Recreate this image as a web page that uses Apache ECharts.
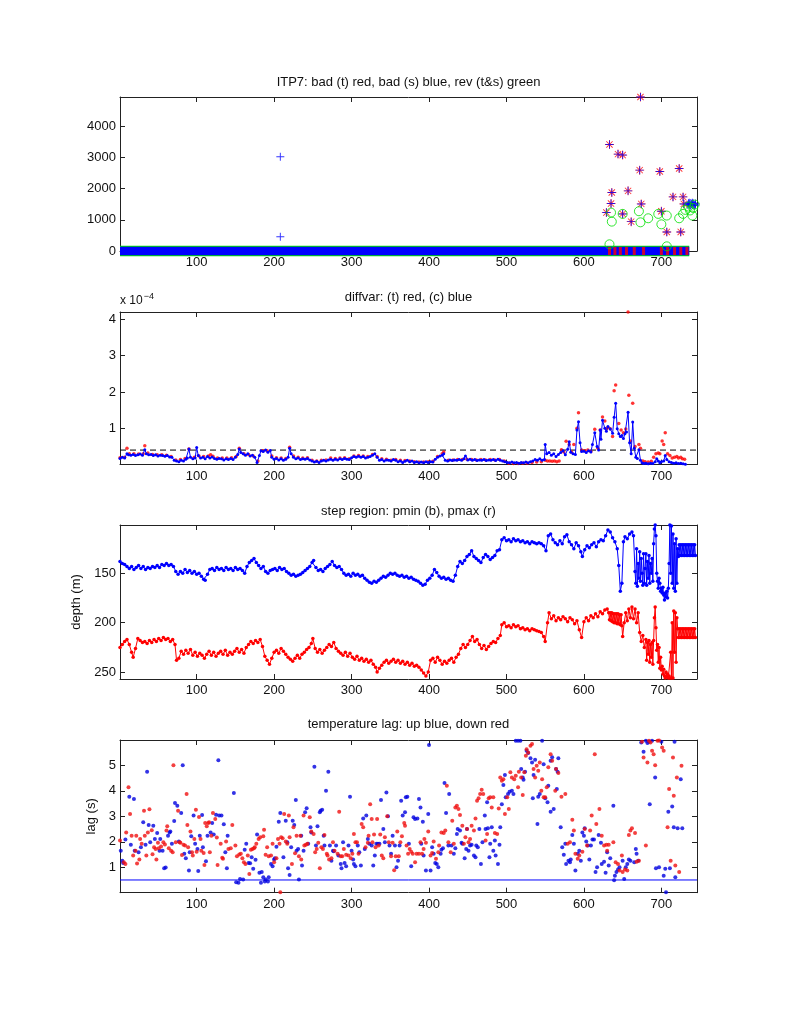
<!DOCTYPE html>
<html><head><meta charset="utf-8">
<script src="https://cdn.jsdelivr.net/npm/echarts@6/dist/echarts.min.js"></script>
<style>html,body{margin:0;padding:0;background:#fff}#c{width:791px;height:1024px}</style>
</head><body><div id="c"></div><script>
// ---------- data ----------
const xTicks = [100,200,300,400,500,600,700];
const titles = ['ITP7: bad (t) red, bad (s) blue, rev (t&s) green','diffvar: (t) red, (c) blue','step region: pmin (b), pmax (r)','temperature lag: up blue, down red'];

// panel 1
const badT = [[673,4940],[633,3418],[644,3108],[650,3077],[672,2594],[698,2551],[723,2647],[636,1876],[657,1929],[715,1736],[728,1736],[635,1522],[674,1511],[729,1511],[629,1232],[650,1190],[700,1276],[661,942],[707,611],[725,611]];
const badTZero = [[633,0],[640,0],[647,0],[655,0],[665,0],[677,0],[700,0],[708,0],[717,0],[725,0],[733,0]];
const badS = [[673,4940],[633,3418],[644,3108],[650,3077],[672,2594],[698,2551],[723,2647],[636,1876],[657,1929],[715,1736],[728,1736],[635,1522],[674,1511],[729,1511],[629,1232],[650,1190],[700,1276],[661,942],[707,611],[725,611],[208,3020],[208,460],
 [734,1480],[735,1530],[736,1500],[737,1470],[738,1540],[739,1510],[740,1490],[741,1530],[742,1500],[743,1470],[744,1520],[736,1550],[738,1460],[740,1550],[742,1460],[744,1480]];
const badSZeroBand = [[1,0],[736,0]];
const revZeroBand = [[1,0],[736,0]];
const rev = [[635,1232],[636,942],[650,1190],[671,1276],[673,920],[683,1050],[696,1190],[700,856],[707,1137],[723,1050],[728,1190],[731,1319],[735,1426],[740,1137],[743,1490],[737,1300],[741,1380],[633,215],[707,150]];

// panel 2 (units of 1e-4)
const diffLimit = 0.4;
const diffC = [[1,0.17],[4,0.2],[7,0.18],[10,0.3],[12,0.27],[15,0.26],[18,0.28],[21,0.25],[24,0.27],[27,0.29],[30,0.26],[33,0.41],[35,0.3],[38,0.27],[41,0.28],[44,0.25],[47,0.27],[50,0.24],[53,0.26],[56,0.25],[59,0.23],[62,0.25],[65,0.21],[68,0.2],[71,0.12],[74,0.1],[77,0.08],[80,0.12],[83,0.1],[86,0.15],[88,0.18],[90,0.43],[92,0.2],[95,0.16],[98,0.18],[100,0.47],[102,0.25],[105,0.18],[108,0.2],[111,0.16],[114,0.22],[117,0.18],[120,0.21],[123,0.17],[126,0.15],[129,0.17],[132,0.16],[135,0.13],[138,0.16],[141,0.14],[144,0.17],[147,0.14],[150,0.2],[153,0.28],[155,0.43],[157,0.33],[160,0.3],[163,0.26],[166,0.3],[169,0.24],[172,0.26],[175,0.2],[178,0.06],[181,0.25],[183,0.38],[186,0.36],[189,0.4],[192,0.34],[195,0.39],[197,0.2],[200,0.15],[203,0.17],[206,0.13],[209,0.16],[212,0.12],[215,0.15],[218,0.2],[220,0.45],[222,0.3],[225,0.2],[228,0.16],[231,0.18],[234,0.14],[237,0.16],[240,0.15],[243,0.17],[246,0.13],[249,0.1],[252,0.07],[255,0.09],[258,0.06],[261,0.1],[264,0.12],[267,0.1],[270,0.13],[273,0.15],[276,0.12],[279,0.15],[282,0.13],[285,0.16],[288,0.14],[291,0.17],[294,0.15],[297,0.14],[300,0.19],[303,0.22],[306,0.2],[309,0.23],[312,0.2],[315,0.22],[318,0.18],[321,0.2],[324,0.22],[327,0.26],[330,0.3],[333,0.2],[336,0.12],[339,0.14],[342,0.1],[345,0.13],[348,0.12],[351,0.1],[354,0.14],[357,0.12],[360,0.08],[363,0.1],[366,0.06],[369,0.09],[372,0.12],[375,0.08],[378,0.1],[381,0.06],[384,0.08],[387,0.05],[390,0.07],[393,0.05],[396,0.08],[399,0.06],[402,0.08],[405,0.07],[408,0.15],[411,0.2],[414,0.24],[417,0.26],[419,0.3],[421,0.12],[424,0.1],[427,0.13],[430,0.11],[433,0.13],[436,0.12],[439,0.14],[442,0.12],[445,0.16],[447,0.24],[450,0.13],[453,0.15],[456,0.12],[459,0.14],[462,0.11],[465,0.13],[468,0.12],[471,0.14],[474,0.11],[477,0.13],[480,0.12],[483,0.14],[486,0.11],[489,0.15],[492,0.12],[495,0.1],[498,0.08],[501,0.06],[504,0.05],[507,0.07],[510,0.05],[513,0.06],[516,0.04],[519,0.06],[522,0.05],[525,0.07],[528,0.05],[531,0.08],[534,0.1],[537,0.14],[540,0.12],[543,0.16],[546,0.12],[549,0.14],[550,0.55],[552,0.3],[555,0.33],[558,0.26],[561,0.3],[564,0.22],[567,0.28],[570,0.33],[573,0.38],[576,0.27],[579,0.42],[581,0.63],[583,0.34],[586,0.3],[589,0.28],[591,0.95],[593,1.18],[595,0.6],[597,0.36],[600,0.37],[603,0.33],[606,0.38],[609,0.35],[611,0.55],[614,0.88],[617,0.5],[619,0.4],[621,0.95],[622,0.7],[624,1.22],[627,1.0],[629,0.92],[631,1.05],[634,0.98],[637,0.86],[639,1.3],[641,1.69],[643,0.99],[645,0.85],[647,0.77],[649,0.8],[651,0.72],[653,0.85],[655,0.9],[657,1.44],[659,0.6],[661,0.3],[663,1.17],[665,0.45],[667,0.2],[669,0.17],[671,0.41],[673,0.12],[675,0.05],[677,0.03],[680,0.04],[683,0.02],[686,0.04],[689,0.03],[692,0.08],[694,0.16],[696,0.1],[698,0.05],[700,0.08],[703,0.1],[705,0.25],[707,0.14],[710,0.08],[713,0.06],[716,0.04],[719,0.05],[722,0.03],[725,0.04],[728,0.02],[731,0.01]];
const diffT = [[1,0.19],[7,0.2],[10,0.45],[13,0.3],[19,0.3],[25,0.29],[31,0.3],[33,0.52],[37,0.32],[43,0.28],[49,0.27],[55,0.27],[61,0.26],[67,0.22],[73,0.13],[79,0.14],[85,0.17],[90,0.43],[97,0.2],[103,0.24],[109,0.22],[115,0.24],[118,0.27],[121,0.23],[127,0.18],[133,0.18],[139,0.18],[145,0.19],[151,0.22],[155,0.45],[161,0.3],[167,0.28],[173,0.24],[179,0.1],[185,0.38],[191,0.38],[197,0.24],[203,0.19],[209,0.18],[215,0.17],[220,0.48],[225,0.24],[231,0.2],[237,0.18],[243,0.19],[249,0.12],[255,0.1],[261,0.12],[267,0.13],[273,0.18],[279,0.17],[285,0.18],[291,0.19],[297,0.16],[303,0.24],[309,0.25],[315,0.24],[321,0.22],[327,0.28],[333,0.22],[339,0.16],[345,0.15],[351,0.12],[357,0.14],[363,0.12],[369,0.11],[375,0.1],[381,0.08],[387,0.07],[393,0.07],[399,0.08],[405,0.09],[411,0.22],[417,0.3],[419,0.35],[425,0.12],[431,0.13],[437,0.14],[443,0.14],[449,0.15],[455,0.14],[461,0.13],[467,0.14],[473,0.13],[479,0.14],[485,0.13],[491,0.14],[497,0.1],[503,0.04],[509,0.03],[515,0.03],[521,0.04],[527,0.04],[533,0.06],[539,0.07],[545,0.08],[550,0.12],[553,0.1],[556,0.1],[559,0.09],[562,0.1],[565,0.08],[568,0.1],[571,0.41],[574,0.35],[577,0.64],[581,0.55],[584,0.35],[587,0.55],[591,1.0],[593,1.43],[597,0.4],[601,0.38],[605,0.4],[609,0.36],[614,0.97],[618,0.45],[621,0.95],[624,1.31],[627,1.2],[629,0.98],[631,1.02],[634,0.99],[637,0.77],[639,2.03],[641,2.19],[645,1.13],[648,0.95],[651,0.88],[654,0.98],[657,4.2],[658,1.91],[660,0.65],[663,1.69],[666,0.5],[671,0.55],[673,0.45],[676,0.1],[679,0.08],[683,0.07],[687,0.09],[690,0.2],[693,0.3],[696,0.32],[698,0.3],[701,0.65],[703,0.55],[705,0.88],[708,0.3],[711,0.25],[714,0.18],[717,0.2],[720,0.22],[722,0.18],[725,0.2],[727,0.16],[730,0.15]];

// panel 3 (depth, m)
const pmin = [[1,138],[4,140],[7,141],[10,143],[13,145],[16,143],[19,146],[22,144],[25,142],[28,145],[31,143],[34,146],[37,144],[40,145],[43,143],[46,144],[49,142],[52,144],[55,141],[58,142],[61,140],[64,142],[67,141],[70,143],[73,148],[76,151],[79,148],[82,150],[85,146],[88,149],[91,147],[94,150],[97,148],[100,151],[103,150],[106,153],[109,156],[111,157],[114,151],[117,146],[120,145],[123,147],[126,144],[129,146],[132,145],[135,147],[138,144],[141,146],[144,145],[147,147],[150,144],[153,146],[156,145],[159,147],[162,150],[165,143],[168,139],[171,137],[174,135],[177,139],[180,142],[183,145],[186,143],[189,148],[192,150],[195,147],[198,146],[201,145],[204,147],[207,144],[210,146],[213,145],[216,148],[219,150],[222,152],[225,151],[228,153],[231,152],[234,151],[237,149],[240,147],[243,145],[246,143],[249,139],[251,137],[254,144],[257,147],[260,146],[263,148],[266,145],[269,143],[272,141],[275,138],[278,142],[281,144],[284,143],[287,146],[290,150],[293,152],[296,151],[299,153],[302,150],[305,152],[308,151],[311,153],[314,152],[317,155],[320,157],[323,159],[326,160],[329,158],[332,159],[335,157],[338,155],[341,153],[344,154],[347,152],[350,150],[353,151],[356,150],[359,152],[362,153],[365,152],[368,154],[371,153],[374,155],[377,154],[380,156],[383,157],[386,158],[389,160],[392,162],[395,161],[398,157],[401,155],[404,152],[407,146],[410,149],[413,153],[416,155],[419,154],[422,156],[425,155],[428,157],[431,158],[434,152],[437,143],[440,138],[443,140],[446,137],[449,133],[452,131],[455,127],[458,133],[461,135],[464,137],[467,139],[470,134],[473,131],[476,133],[479,136],[482,134],[485,132],[488,127],[491,126],[494,116],[497,114],[500,117],[503,116],[506,118],[509,115],[512,117],[515,116],[518,118],[521,117],[524,119],[527,118],[530,120],[533,118],[536,119],[539,120],[542,119],[545,120],[548,122],[551,127],[554,112],[557,110],[560,116],[563,119],[566,121],[569,117],[572,120],[575,113],[578,111],[581,118],[584,121],[587,125],[590,119],[593,122],[596,128],[598,133],[601,126],[604,122],[607,124],[610,121],[613,119],[616,123],[619,118],[622,116],[625,117],[628,112],[631,106],[634,108],[637,114],[640,118],[643,125],[645,142],[647,168],[649,160],[651,118],[653,113],[656,115],[659,110],[662,108],[664,112],[666,148],[667,160],[668,125],[669,163],[670,140],[671,155],[672,128],[673,158],[674,135],[675,150],[676,162],[677,130],[678,160],[679,145],[680,130],[681,162],[682,138],[683,155],[684,132],[685,160],[686,140],[687,150],[688,135],[689,158],[690,120],[691,105],[692,101],[693,112],[694,150],[695,158],[696,165],[697,155],[698,160],[699,168],[700,165],[701,170],[702,164],[703,172],[704,177],[705,170],[706,174],[707,168],[708,175],[709,165],[710,140],[711,101],[712,150],[713,102],[714,160],[715,110],[716,165],[717,120],[718,168],[719,115],[720,160],[721,125],[722,133],[723,121],[724,132],[725,121],[726,132],[727,121],[728,132],[729,121],[730,132],[731,121],[732,132],[733,121],[734,132],[735,121],[736,132],[737,121],[738,132],[739,121],[740,132],[741,121],[742,132],[743,121],[744,132]];
const pmax = [[1,225],[4,222],[7,219],[10,217],[13,222],[16,230],[18,235],[21,226],[24,216],[27,218],[30,220],[33,219],[36,221],[39,218],[42,220],[45,217],[48,219],[51,216],[54,218],[57,215],[60,217],[63,216],[66,219],[69,217],[72,222],[74,238],[77,236],[80,229],[83,232],[86,228],[89,231],[92,227],[95,233],[98,230],[101,234],[104,231],[107,233],[110,236],[113,232],[116,229],[119,233],[122,230],[125,234],[128,231],[131,229],[134,232],[137,228],[140,233],[143,230],[146,232],[149,229],[152,226],[155,230],[158,227],[161,231],[164,225],[167,222],[170,219],[173,221],[176,218],[179,220],[182,217],[185,224],[188,234],[191,238],[194,242],[197,236],[200,230],[203,228],[206,231],[209,226],[212,229],[215,232],[218,235],[221,237],[224,239],[227,236],[230,233],[233,236],[236,232],[239,230],[242,227],[245,225],[248,221],[250,216],[253,226],[256,230],[259,227],[262,231],[265,228],[268,225],[271,222],[274,224],[277,220],[280,226],[283,229],[286,231],[289,233],[292,230],[295,234],[298,231],[301,235],[304,237],[307,234],[310,238],[313,236],[316,239],[319,237],[322,240],[325,238],[328,242],[331,245],[333,250],[336,246],[339,243],[342,240],[345,238],[348,241],[351,239],[354,237],[357,240],[360,238],[363,241],[366,239],[369,242],[372,240],[375,243],[378,241],[381,244],[384,243],[387,245],[390,248],[393,251],[396,254],[399,250],[402,238],[405,236],[408,240],[411,235],[414,238],[417,242],[420,239],[423,241],[426,238],[429,236],[432,240],[435,235],[438,232],[441,226],[444,222],[447,225],[450,222],[453,218],[456,214],[459,219],[462,217],[465,222],[468,226],[471,223],[474,227],[477,224],[480,221],[483,219],[486,220],[489,216],[492,213],[494,202],[497,200],[500,204],[503,203],[506,205],[509,202],[512,204],[515,203],[518,206],[521,205],[524,207],[527,206],[530,208],[533,206],[536,207],[539,208],[542,209],[545,210],[548,214],[550,219],[553,200],[555,190],[558,196],[561,193],[564,198],[567,195],[570,197],[573,194],[576,196],[579,199],[582,195],[585,197],[588,201],[591,198],[594,207],[597,215],[600,199],[603,195],[606,198],[609,193],[612,195],[615,191],[618,194],[621,189],[624,191],[627,187],[630,186],[632,190],[633,197],[634,190],[635,198],[636,190],[637,199],[638,191],[639,200],[640,191],[641,200],[642,191],[643,201],[644,191],[645,201],[646,192],[647,202],[648,192],[649,203],[650,214],[652,200],[654,190],[656,198],[658,186],[660,195],[662,184],[664,196],[666,186],[668,200],[670,190],[672,210],[674,219],[676,213],[678,225],[680,217],[681,238],[682,220],[683,232],[684,218],[685,240],[686,222],[687,235],[688,220],[689,242],[690,218],[691,195],[692,184],[693,205],[694,228],[695,222],[696,240],[697,225],[698,246],[699,235],[700,248],[701,244],[702,252],[703,247],[704,254],[705,256],[706,250],[707,255],[708,252],[709,256],[710,254],[711,256],[712,230],[713,256],[714,200],[715,256],[716,188],[717,230],[718,190],[719,240],[720,195],[721,206],[722,215],[723,206],[724,215],[725,206],[726,215],[727,206],[728,215],[729,206],[730,215],[731,206],[732,215],[733,206],[734,215],[735,206],[736,215],[737,206],[738,215],[739,206],[740,215],[741,206],[742,215],[743,206],[744,215]];

// panel 4 (lag, s)
const lagRef = 0.5;
const lagUp = [[2,1.65],[4,1.26],[5,1.17],[8,2.09],[13,3.77],[19,3.68],[15,1.88],[20,1.65],[25,1.59],[28,1.79],[31,2.77],[36,4.75],[34,1.88],[38,2.66],[40,1.98],[44,2.63],[46,2.11],[49,2.35],[52,1.65],[53,2.11],[56,1.65],[58,0.96],[60,0.99],[63,2.24],[65,2.37],[66,2.40],[68,1.92],[71,2.82],[72,3.52],[75,3.42],[77,2.01],[80,3.13],[82,5.01],[84,1.53],[86,1.35],[90,0.87],[91,1.59],[93,2.22],[96,3.03],[98,1.92],[101,1.72],[102,0.85],[104,2.24],[107,3.05],[108,1.79],[112,1.24],[114,2.24],[118,2.37],[120,2.74],[122,2.29],[125,3.06],[128,5.20],[129,3.03],[132,3.03],[135,2.69],[137,1.59],[139,0.96],[140,2.24],[148,3.92],[151,0.41],[154,0.39],[156,0.54],[160,0.52],[162,1.69],[164,1.92],[167,1.17],[169,1.16],[171,1.39],[173,0.94],[176,1.29],[178,2.29],[181,0.78],[183,0.39],[184,0.81],
 [186,0.61],[188,0.44],[189,0.52],[192,0.44],[193,0.61],[196,1.13],[198,1.04],[200,1.30],[201,1.35],[203,1.81],[206,2.79],[208,3.13],[212,1.39],[215,2.83],[217,1.98],[218,0.96],[220,0.70],[222,1.79],[224,2.83],[226,2.66],[228,3.64],[229,1.65],[231,1.72],[232,0.52],[235,2.24],[236,1.07],[238,1.65],[240,3.16],[242,3.32],[244,1.92],[247,2.57],[248,2.37],[252,4.95],[254,1.85],[256,2.61],[259,3.16],[260,3.22],[262,3.26],[264,2.24],[265,1.85],[267,4.01],[270,4.75],[272,1.85],[274,1.26],[276,1.65],[277,1.63],[280,1.85],[283,1.46],[286,1.13],[287,0.96],[289,1.98],[291,1.17],[293,1.04],[296,1.85],[298,3.77],[300,1.65],[302,1.30],[303,1.13],[305,1.04],[308,1.85],[310,1.59],[312,1.07],[315,2.92],[317,1.72],[319,3.03],[321,2.11],[323,1.92],[326,1.85],[328,1.07],[330,1.46],[332,1.92],[334,1.92],[336,1.92],[338,3.64],[341,2.50],[343,1.98],[345,3.94],[347,3.00],[349,1.85],[351,1.53],[353,2.24],[356,1.85],[358,1.00],[360,1.26],[362,1.85],[364,3.61],[366,3.03],[369,3.16],[370,3.75],
 [372,3.77],[374,1.92],[377,1.04],[380,2.96],[382,2.90],[385,2.92],[387,3.68],[389,3.35],[390,1.92],[392,2.79],[393,1.46],[396,0.87],[399,3.09],[400,5.80],[402,0.87],[404,1.79],[406,1.53],[408,1.17],[410,1.13],[412,1.00],[415,1.53],[416,1.69],[418,1.75],[420,4.31],[422,3.13],[425,1.85],[426,3.88],[429,1.85],[432,1.53],[434,1.75],[436,2.31],[437,2.50],[440,2.44],[442,1.96],[443,1.92],[446,1.35],[448,1.72],[449,2.50],[451,1.65],[453,1.85],[455,1.88],[458,1.46],[460,1.39],[461,1.85],[463,1.79],[465,2.50],[467,1.13],[469,1.98],[472,3.03],[473,2.50],[475,3.55],[476,2.53],[478,1.39],[479,1.92],[481,2.57],[483,1.65],[485,2.05],[486,1.46],[489,1.13],[491,1.88],[492,2.57],[494,3.48],[496,4.23],[498,4.62],[499,3.75],[502,3.88],[504,3.97],[507,4.01],[509,3.88],[512,5.97],[515,5.97],[518,5.97],[519,4.86],[521,4.53],[522,4.44],[524,4.75],[526,5.58],[528,5.49],[531,5.28],[533,5.12],[534,3.71],[535,4.62],[537,5.22],[540,2.70],[541,3.77],[543,3.88],[546,5.97],[548,5.05],[550,3.71],[553,3.55],[554,4.20],
 [557,5.18],[559,5.32],[564,4.86],[566,4.75],[567,5.28],[565,4.07],[561,3.29],[557,3.18],[570,2.57],[572,1.79],[574,1.49],[576,1.92],[577,1.13],[580,1.26],[582,1.20],[583,1.30],[585,2.27],[587,1.92],[589,0.87],[592,1.53],[594,1.65],[596,1.26],[598,2.37],[600,2.24],[601,2.53],[603,2.01],[605,1.85],[607,1.30],[609,1.85],[611,2.09],[613,2.09],[615,0.81],[617,1.00],[619,2.27],[622,1.96],[623,1.13],[626,1.22],[628,0.78],[630,1.59],[632,1.07],[634,1.35],[638,3.42],[639,0.49],[640,0.67],[642,0.81],[644,0.91],[646,1.00],[650,1.26],[652,0.54],[654,1.00],[656,1.13],[658,1.30],[660,1.26],[665,1.20],[667,1.72],[668,1.53],[670,1.26],[674,5.90],[677,5.54],[680,5.97],[682,5.88],[684,5.93],[685,3.48],[688,5.97],[692,4.53],[693,0.96],[697,1.00],[700,5.93],[703,0.67],[705,0.94],[706,0.02],[709,3.18],[711,0.96],[714,3.39],[716,2.57],[717,5.93],[718,0.61],[721,2.53],[725,4.46],[727,2.53]];
const lagDown = [[1,2.05],[6,1.20],[8,1.13],[9,2.37],[12,4.14],[14,3.09],[16,2.24],[18,1.46],[21,1.65],[22,2.24],[23,1.15],[26,1.30],[27,2.11],[29,1.92],[32,3.22],[33,2.24],[35,1.46],[37,2.37],[39,3.28],[42,2.45],[43,1.51],[45,1.79],[47,1.72],[48,1.30],[50,1.96],[51,1.75],[54,1.82],[57,1.98],[59,1.89],[61,2.44],[62,2.61],[64,1.75],[67,1.65],[69,1.59],[70,5.01],[73,1.98],[76,3.22],[78,1.98],[79,1.96],[81,1.48],[83,1.88],[85,1.85],[87,3.88],[88,2.66],[89,1.79],[92,2.40],[94,1.59],[95,1.46],[97,2.11],[99,3.26],[100,1.61],[103,2.97],[105,2.11],[106,1.65],[109,1.56],[110,1.09],[111,2.74],[113,2.61],[115,2.74],[116,2.77],[117,1.59],[119,2.24],[121,3.13],[124,2.90],[126,2.17],[127,1.09],[131,1.92],[133,1.37],[134,1.33],[138,2.01],[141,1.72],[144,1.75],[146,2.66],[150,1.85],[152,1.43],[155,1.50],[157,1.53],[159,1.35],[161,1.20],[163,1.13],[166,1.46],[168,0.73],[170,1.69],[172,1.72],[174,1.75],[175,1.79],[177,1.92],[180,2.11],[182,2.18],
 [186,2.22],[187,2.47],[189,1.49],[191,1.79],[193,1.43],[196,1.46],[198,1.92],[200,1.20],[203,1.35],[205,2.11],[208,0.02],[207,1.92],[209,2.18],[211,2.14],[213,3.09],[215,2.01],[217,1.92],[219,3.03],[220,2.18],[223,1.13],[225,2.57],[227,1.55],[229,2.24],[232,1.43],[234,2.24],[235,1.30],[238,3.03],[239,1.85],[241,1.88],[243,1.92],[246,2.96],[248,2.40],[251,2.31],[253,1.59],[255,1.72],[257,1.96],[259,0.96],[261,1.79],[263,1.72],[265,2.27],[268,1.53],[269,1.46],[271,1.30],[274,1.35],[276,1.98],[278,1.65],[282,1.53],[284,3.18],[286,1.43],[288,1.43],[290,1.72],[293,1.49],[296,1.46],[299,1.35],[301,1.53],[303,2.31],[305,1.98],[307,1.98],[309,1.53],[313,2.70],[315,2.57],[318,1.79],[321,1.96],[322,2.24],[324,3.48],[326,2.90],[327,1.98],[329,2.29],[331,1.79],[333,2.90],[335,1.85],[337,2.29],[339,1.46],[341,1.35],[343,2.18],[346,3.00],[348,1.98],[351,1.43],[353,1.96],[355,0.88],[357,1.43],[359,2.40],[361,1.43],[363,1.98],[365,2.22],[368,2.74],[369,2.63],
 [371,1.85],[373,1.53],[375,1.72],[377,1.61],[379,1.53],[382,1.20],[384,1.53],[387,1.53],[389,1.98],[391,1.53],[393,1.72],[394,2.11],[396,1.96],[399,2.40],[402,1.46],[404,1.56],[406,2.01],[409,1.33],[412,1.59],[413,1.85],[416,2.37],[419,2.35],[421,2.44],[423,4.20],[425,1.98],[428,1.59],[430,2.83],[432,1.92],[434,3.35],[436,3.42],[438,3.29],[440,3.05],[443,2.63],[445,1.92],[447,2.18],[449,2.50],[451,1.98],[453,2.11],[455,2.63],[458,2.44],[460,2.92],[462,3.61],[464,3.71],[466,3.88],[468,4.05],[470,3.88],[473,2.05],[475,2.31],[477,3.71],[479,3.75],[481,3.35],[483,3.75],[485,2.35],[488,2.31],[490,3.31],[492,4.53],[494,4.40],[496,4.46],[498,3.09],[501,3.75],[503,3.29],[505,4.73],[507,4.53],[510,4.46],[512,4.60],[515,4.14],[516,4.75],[519,4.53],[521,3.84],[523,4.73],[525,5.38],[526,5.64],[528,5.51],[531,5.77],[533,5.84],[535,4.86],[537,4.53],[539,4.99],[541,4.79],[543,5.12],[545,4.01],[546,4.46],[548,3.75],[550,3.75],[552,4.14],[554,4.93],
 [557,5.44],[559,5.18],[563,4.01],[564,4.86],[567,4.70],[571,3.77],[576,3.88],[579,1.92],[582,1.98],[585,2.87],[587,2.44],[589,1.53],[592,1.33],[594,1.46],[598,1.61],[601,2.50],[604,1.85],[608,2.44],[610,3.03],[614,5.44],[616,2.70],[620,3.29],[623,2.24],[626,1.85],[629,1.88],[630,1.65],[632,1.88],[638,1.98],[641,1.20],[644,1.13],[646,0.87],[649,1.46],[650,0.81],[653,0.91],[656,0.87],[658,2.27],[660,2.44],[662,2.53],[666,2.35],[668,1.22],[671,1.26],[675,5.93],[677,5.31],[680,1.85],[682,5.12],[684,5.97],[686,5.90],[688,5.58],[690,5.44],[692,5.01],[695,5.97],[697,5.98],[701,5.71],[703,5.58],[708,2.57],[710,4.07],[712,1.26],[715,5.31],[716,3.81],[718,1.07],[720,4.53],[723,0.81],[726,4.99]];

// ---------- chart ----------
const FONT = '"Liberation Sans", Arial, Helvetica, sans-serif';
const X0 = 1, X1 = 746;
const grids = [
  {left:120, width:577, top:97, height:154},
  {left:120, width:577, top:312, height:152.6},
  {left:120, width:577, top:525, height:154},
  {left:120, width:577, top:740, height:152.7}
];
const yCfg = [
  {min:0, max:4940, ticks:[0,1000,2000,3000,4000]},
  {min:0, max:4.2, ticks:[1,2,3,4]},
  {min:101, max:257, ticks:[150,200,250], inverse:true, name:'depth (m)', gap:31},
  {min:0, max:6, ticks:[1,2,3,4,5], name:'lag (s)', gap:14}
];
const lineC = '#222';
const plain = v => String(v);
const xAxes = [], yAxes = [];
grids.forEach((g, i) => {
  ['bottom','top'].forEach(pos => xAxes.push({
    type:'value', gridIndex:i, min:X0, max:X1, position:pos,
    axisLine:{show:true, onZero:false, lineStyle:{color:lineC, width:1}},
    axisTick:{show:true, inside:true, length:5, customValues:xTicks, lineStyle:{color:lineC}},
    axisLabel:{show:pos==='bottom', customValues:xTicks, formatter:plain, fontSize:13, color:'#111', margin:5, fontFamily:FONT},
    splitLine:{show:false}
  }));
  const c = yCfg[i];
  ['left','right'].forEach(pos => yAxes.push({
    type:'value', gridIndex:i, min:c.min, max:c.max, inverse:!!c.inverse, position:pos,
    name: pos==='left' ? (c.name||'') : '', nameLocation:'middle', nameGap:c.gap||30,
    nameTextStyle:{fontSize:13, color:'#111', fontFamily:FONT},
    axisLine:{show:true, onZero:false, lineStyle:{color:lineC, width:1}},
    axisTick:{show:true, inside:true, length:5, customValues:c.ticks, lineStyle:{color:lineC}},
    axisLabel:{show:pos==='left', customValues:c.ticks, formatter:plain, fontSize:13, color:'#111', margin:4, fontFamily:FONT},
    splitLine:{show:false}
  }));
});

const PLUS = 'path://M4.4,0H5.6V10H4.4Z M0,4.4H10V5.6H0Z';
const STAR = 'path://M4.5,0H5.5V10H4.5Z M0,4.5H10V5.5H0Z M1.854,1.146L8.854,8.146L8.146,8.854L1.146,1.854Z M8.146,1.146L8.854,1.854L1.854,8.854L1.146,8.146Z';
const BAR = 'path://M3,0H7V10H3Z';
const BLUE = '#0000ff', RED = '#ff0000', GREEN = '#00e000';
function ax(i){ return {xAxisIndex:2*i, yAxisIndex:2*i}; }

const series = [
  // panel 1
  Object.assign({type:'line', data:revZeroBand, symbol:'none', clip:false, lineStyle:{color:GREEN, width:10.5, cap:'butt'}, z:1}, ax(0)),
  Object.assign({type:'line', data:badSZeroBand, symbol:'none', clip:false, lineStyle:{color:BLUE, width:8.5, cap:'butt'}, z:2}, ax(0)),
  Object.assign({type:'scatter', data:badTZero, symbol:BAR, symbolSize:[3,8], itemStyle:{color:RED}, z:3}, ax(0)),
  Object.assign({type:'scatter', data:badT, symbol:STAR, symbolSize:9, itemStyle:{color:RED}, z:3}, ax(0)),
  Object.assign({type:'scatter', data:badS, symbol:PLUS, symbolSize:8, itemStyle:{color:BLUE}, z:4}, ax(0)),
  Object.assign({type:'scatter', data:rev, symbol:'circle', symbolSize:9, itemStyle:{color:'rgba(0,0,0,0)', borderColor:GREEN, borderWidth:1}, z:5}, ax(0)),
  // panel 2
  Object.assign({type:'line', data:[[X0,diffLimit],[X1,diffLimit]], symbol:'none', lineStyle:{color:'#000', width:1, type:[6,4]}, z:1}, ax(1)),
  Object.assign({type:'scatter', data:diffT, symbol:'circle', symbolSize:3.5, itemStyle:{color:RED}, z:2}, ax(1)),
  Object.assign({type:'line', data:diffC, symbol:'circle', symbolSize:3, showSymbol:true, lineStyle:{color:BLUE, width:1}, itemStyle:{color:BLUE}, z:3}, ax(1)),
  // panel 3
  Object.assign({type:'line', data:pmin, symbol:'circle', symbolSize:3.5, showSymbol:true, lineStyle:{color:BLUE, width:1}, itemStyle:{color:BLUE}}, ax(2)),
  Object.assign({type:'line', data:pmax, symbol:'circle', symbolSize:3.5, showSymbol:true, lineStyle:{color:RED, width:1}, itemStyle:{color:RED}}, ax(2)),
  // panel 4
  Object.assign({type:'line', data:[[X0,lagRef],[X1,lagRef]], symbol:'none', lineStyle:{color:BLUE, width:1}, z:1}, ax(3)),
  Object.assign({type:'scatter', data:lagUp, symbol:'circle', symbolSize:4, itemStyle:{color:'#0000e0'}, z:2}, ax(3)),
  Object.assign({type:'scatter', data:lagDown, symbol:'circle', symbolSize:4, itemStyle:{color:'#f01010'}, z:3}, ax(3))
];

const titleY = [76, 291, 505, 718];
const graphic = titles.map((t, i) => ({
  type:'text', x:408.5, y:titleY[i],
  style:{text:t, fontSize:13, fill:'#111', fontFamily:FONT, textAlign:'center'}
}));
graphic.push({type:'text', x:120, y:292, style:{text:'{a|x 10}{s|−4}', fontFamily:FONT, fill:'#111',
  rich:{a:{fontSize:12, fill:'#111', fontFamily:FONT}, s:{fontSize:9, fill:'#111', fontFamily:FONT, padding:[0,0,9,1]}}}});

const chart = echarts.init(document.getElementById('c'), null, {renderer:'canvas'});
chart.setOption({
  backgroundColor:'#fff', animation:false,
  grid:grids, xAxis:xAxes, yAxis:yAxes, series:series, graphic:graphic
});
</script></body></html>
